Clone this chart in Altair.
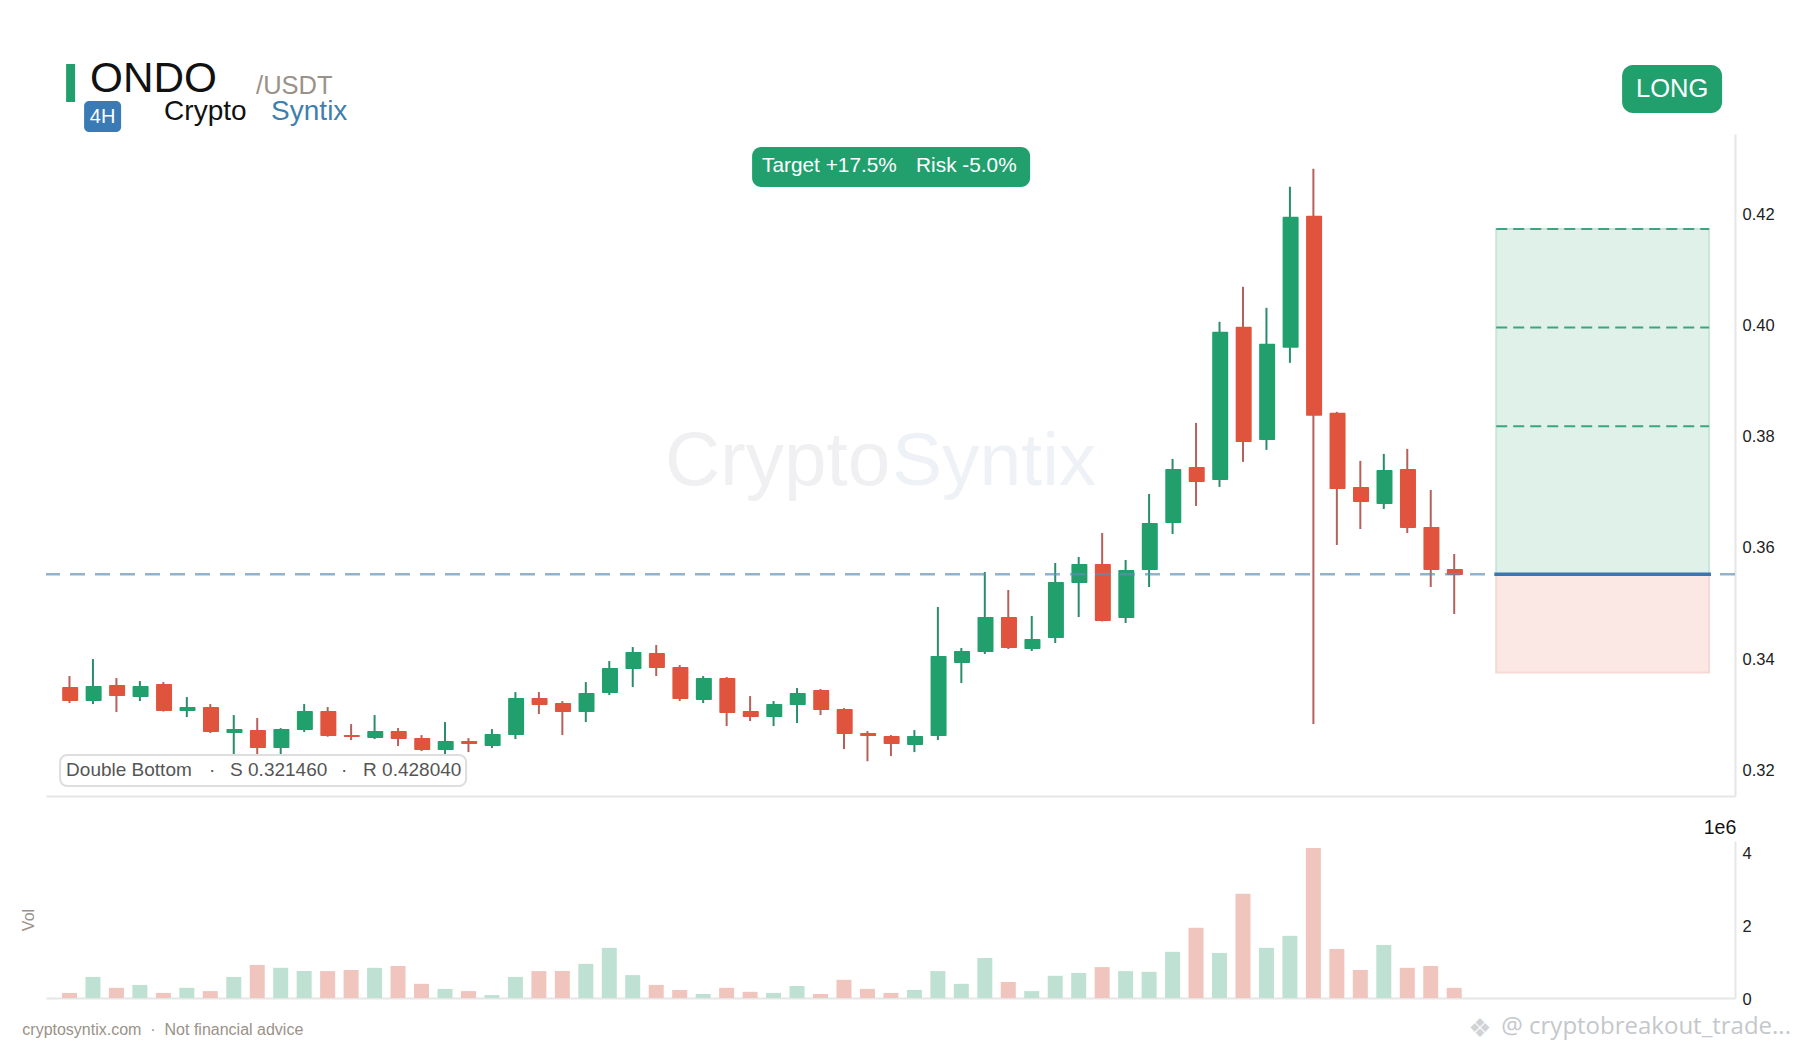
import altair as alt
import pandas as pd

FONT = "Liberation Sans"
GREEN, RED = "#21a06e", "#e0533c"
GREEN_WICK, RED_WICK = "#2d8b6d", "#b5605a"
BLUE = "#3a7ab5"

high = [.33678,.33984,.33642,.33588,.33570,.33300,.33174,.32976,.32922,.32742,
        .33174,.33120,.32814,.32976,.32742,.32616,.32850,.32562,.32724,.33390,
        .33390,.33228,.33570,.33948,.34200,.34236,.33876,.33678,.33660,.33318,
        .33228,.33462,.33444,.33102,.32688,.32616,.32706,.34920,.34182,.35550,
        .35226,.34758,.35712,.35820,.36252,.35766,.36954,.37584,.38232,.40051,
        .40681,.40303,.42481,.42804,.38431,.37549,.37675,.37765,.37026,.35874]
body_top = [.33480,.33498,.33516,.33498,.33534,.33120,.33120,.32724,.32706,.32724,
            .33048,.33048,.32616,.32688,.32688,.32562,.32508,.32508,.32634,.33282,
            .33282,.33192,.33372,.33822,.34110,.34092,.33840,.33642,.33642,.33048,
            .33174,.33372,.33426,.33084,.32652,.32598,.32598,.34038,.34128,.34740,
            .34740,.34344,.35370,.35694,.35694,.35586,.36432,.37404,.37440,.39871,
            .39961,.39655,.41941,.41959,.38413,.37081,.37387,.37405,.36360,.35604]
body_bot = [.33228,.33228,.33318,.33300,.33048,.33048,.32670,.32652,.32382,.32382,
            .32706,.32598,.32580,.32562,.32544,.32346,.32346,.32454,.32418,.32616,
            .33156,.33030,.33030,.33372,.33804,.33822,.33264,.33246,.33012,.32940,
            .32940,.33156,.33066,.32634,.32598,.32454,.32436,.32598,.33912,.34110,
            .34182,.34164,.34362,.35352,.34668,.34722,.35586,.36432,.37170,.37207,
            .37891,.37927,.39583,.38359,.37045,.36810,.36774,.36342,.35586,.35496]
low = [.33192,.33174,.33030,.33228,.33040,.32940,.32652,.32238,.32274,.32274,
       .32670,.32586,.32526,.32544,.32418,.32328,.32274,.32310,.32382,.32544,
       .32994,.32616,.32850,.33336,.33480,.33678,.33228,.33192,.32778,.32868,
       .32778,.32832,.32976,.32364,.32146,.32238,.32310,.32526,.33552,.34074,
       .34164,.34128,.34272,.34740,.34660,.34632,.35280,.36234,.36738,.37081,
       .37531,.37747,.39313,.32814,.36036,.36324,.36684,.36252,.35280,.34794]
volume = [140000,580000,280000,360000,140000,280000,190000,580000,910000,830000,
          740000,740000,770000,830000,880000,390000,250000,190000,80000,580000,
          740000,740000,940000,1380000,630000,360000,220000,110000,280000,170000,
          140000,330000,110000,500000,250000,140000,220000,740000,390000,1100000,
          440000,190000,610000,690000,850000,740000,720000,1270000,1930000,1240000,
          2870000,1380000,1710000,4130000,1350000,770000,1460000,830000,880000,280000]
direction = ["r","g","r","g","r","g","r","g","r","g",
             "g","r","r","g","r","r","g","r","g","g",
             "r","r","g","g","g","r","r","g","r","r",
             "g","g","r","r","r","r","g","g","g","g",
             "r","g","g","g","r","g","g","g","r","g",
             "r","g","g","r","r","r","g","r","r","r"]
index = list(range(60))

price_ticks = [0.32, 0.34, 0.36, 0.38, 0.40, 0.42]
vol_ticks = [0, 2000000, 4000000]
entry = 0.3551
stop = 0.3374
targets = [0.3817, 0.3995, 0.4172]
box_start, box_end = 60.76, 69.83

df = pd.DataFrame(dict(i=index, high=high, low=low, top=body_top, bot=body_bot, d=direction, vol=volume))
dfg, dfr = df[df.d == "g"], df[df.d == "r"]

XS = alt.Scale(domain=[-1.03, 70.934], nice=False, zero=False, padding=0)
YS = alt.Scale(domain=[0.3152, 0.4343], nice=False, zero=False)
VS = alt.Scale(domain=[0, 4320000], nice=False, zero=False)
W, H1, H2 = 1689, 662, 157
OX, OY = 44.7, 134
OXM = 45.9
OY2 = 840

x = alt.X("i:Q", scale=XS, title=None,
          axis=alt.Axis(labels=False, ticks=False, grid=False, domainColor="#e6e6e6", domainWidth=2))
xn = alt.X("i:Q", scale=XS)
y_axis = alt.Axis(orient="right", values=price_ticks, format=".2f", ticks=False, grid=False,
                  domainColor="#e6e6e6", domainWidth=2, labelPadding=7, labelFontSize=16.5, labelOffset=1,
                  labelColor="#222222", labelFont=FONT, title=None)

def wick(d, c):
    return alt.Chart(d).mark_rule(strokeWidth=2, xOffset=-0.7, color=c).encode(
        x=x, y=alt.Y("low:Q", scale=YS, axis=y_axis), y2="high:Q")

def body(d, c):
    return alt.Chart(d).mark_bar(width=16, cornerRadius=1, color=c).encode(
        x=xn, y=alt.Y("bot:Q", scale=YS), y2="top:Q")

one = pd.DataFrame({"a": [0]})

def rr(x0, y0, x1, y1, fill, radius=0, stroke=None, sw=0, panel_y=OY):
    kw = dict(fill=fill, cornerRadius=radius)
    if stroke:
        kw.update(stroke=stroke, strokeWidth=sw)
    return alt.Chart(one).mark_rect(**kw).encode(
        x=alt.value(x0 - OXM), x2=alt.value(x1 - OXM),
        y=alt.value(y0 - panel_y), y2=alt.value(y1 - panel_y))

def tx(s, x0, yb, size, color, align="left", font=FONT, panel_y=OY, **extra):
    ox = OXM if panel_y == OY else OX
    return alt.Chart(one).mark_text(text=s, fontSize=size, color=color, align=align, font=font,
                                    baseline="alphabetic", **extra).encode(
        x=alt.value(x0 - ox), y=alt.value(yb - panel_y))

zone_up = alt.Chart(pd.DataFrame({"a": [box_start], "b": [box_end], "y": [entry], "y2": [targets[-1]]})).mark_rect(
    fill="#dff1e9", stroke="#c9e6da", strokeWidth=2).encode(
    x=alt.X("a:Q", scale=XS), x2="b:Q", y=alt.Y("y:Q", scale=YS), y2="y2:Q")
zone_dn = alt.Chart(pd.DataFrame({"a": [box_start], "b": [box_end], "y": [stop], "y2": [entry]})).mark_rect(
    fill="#fbe8e5", stroke="#f7d9d4", strokeWidth=2).encode(
    x=alt.X("a:Q", scale=XS), x2="b:Q", y=alt.Y("y:Q", scale=YS), y2="y2:Q")
tgt = alt.Chart(pd.DataFrame({"a": [box_start] * 3, "b": [box_end] * 3, "y": targets})).mark_rule(
    color="#3aa681", strokeWidth=2, strokeDash=[11, 6]).encode(
    x=alt.X("a:Q", scale=XS), x2="b:Q", y=alt.Y("y:Q", scale=YS))
entry_dash = alt.Chart(pd.DataFrame({"y": [entry]})).mark_rule(
    color="#5f8fb5", opacity=0.68, strokeWidth=2.5, strokeDash=[15, 10]).encode(
    y=alt.Y("y:Q", scale=YS))
entry_solid = alt.Chart(pd.DataFrame({"a": [box_start - 0.08], "b": [box_end + 0.08], "y": [entry]})).mark_rule(
    color="#3a76b0", strokeWidth=3.5).encode(
    x=alt.X("a:Q", scale=XS), x2="b:Q", y=alt.Y("y:Q", scale=YS))

NB = "\u00a0"
main = alt.layer(
    tx("Crypto", 665, 485, 76.5, "#f0f0f2"),
    tx("Syntix", 892, 485, 75, "#eef2f7"),
    zone_up, zone_dn, tgt,
    wick(dfg, GREEN_WICK), wick(dfr, RED_WICK),
    body(dfg, GREEN), body(dfr, RED),
    entry_dash, entry_solid,
    rr(60, 755, 466, 786, "#ffffff", radius=7, stroke="#dedede", sw=2),
    tx("Double Bottom", 66, 776, 19, "#555555"),
    tx("·", 212, 776, 19, "#555555", align="center"),
    tx("S 0.321460", 230, 776, 19, "#555555"),
    tx("·", 344, 776, 19, "#555555", align="center"),
    tx("R 0.428040", 363, 776, 19, "#555555"),
    rr(752, 147, 1030, 187, GREEN, radius=9),
    tx("Target +17.5%", 762, 172, 20.8, "#ffffff"),
    tx("Risk -5.0%", 916, 172, 20.8, "#ffffff"),
    rr(66, 64, 75, 102, GREEN),
    tx("ONDO", 90, 92, 42.3, "#111111"),
    tx("/USDT", 256, 94, 25.5, "#9a9288"),
    rr(84, 101, 121, 132, BLUE, radius=5),
    tx("4H", 102.5, 123, 20, "#ffffff", align="center"),
    tx("Crypto", 164, 120, 28, "#111111"),
    tx("Syntix", 271, 120, 28, "#3f7fae"),
    rr(1622, 65, 1722, 113, GREEN, radius=11),
    tx("LONG", 1672, 97, 25.5, "#ffffff", align="center"),
).properties(width=W, height=H1)

xv = alt.X("i:Q", scale=XS, title=None,
           axis=alt.Axis(labels=False, ticks=False, grid=False, domainColor="#e6e6e6", domainWidth=2))
yv = alt.Y("vol:Q", scale=VS, title=None,
           axis=alt.Axis(orient="right", values=vol_ticks, labelExpr="datum.value / 1000000",
                         ticks=False, grid=False, domainColor="#e6e6e6", domainWidth=2, labelPadding=7,
                         labelFontSize=16.5, labelOffset=1, labelColor="#222222", labelFont=FONT))

vol = alt.layer(
    alt.Chart(dfg).mark_bar(width=15, color="#bfe1d3", xOffset=-0.7).encode(x=xv, y=yv),
    alt.Chart(dfr).mark_bar(width=15, color="#f0c5bd", xOffset=-0.7).encode(x=xv, y=yv),
    tx("1e6", 1735, 833, 19.5, "#111111", align="right", panel_y=OY2),
    tx("Vol", 33, 919, 16, "#9a9288", align="center", panel_y=OY2, angle=270),
    tx(f"cryptosyntix.com{NB*2}·{NB*2}Not financial advice", 21, 1034, 16, "#9a9288", panel_y=OY2),
    tx("❖", 1467, 1036, 26, "#d0d3d6", font="DejaVu Sans", panel_y=OY2),
    tx("@ cryptobreakout_trade...", 1500, 1033, 24, "#c4c8cc", font="Open Sans", panel_y=OY2),
).properties(width=W, height=H2)

chart = alt.vconcat(main, vol, spacing=22).resolve_scale(
    x="independent", y="independent"
).properties(
    background="#ffffff",
    padding={"left": 13, "top": 50, "right": 0, "bottom": 0},
).configure_view(stroke=None)

chart.save("out.html", embed_options={"renderer": "svg", "actions": False})
